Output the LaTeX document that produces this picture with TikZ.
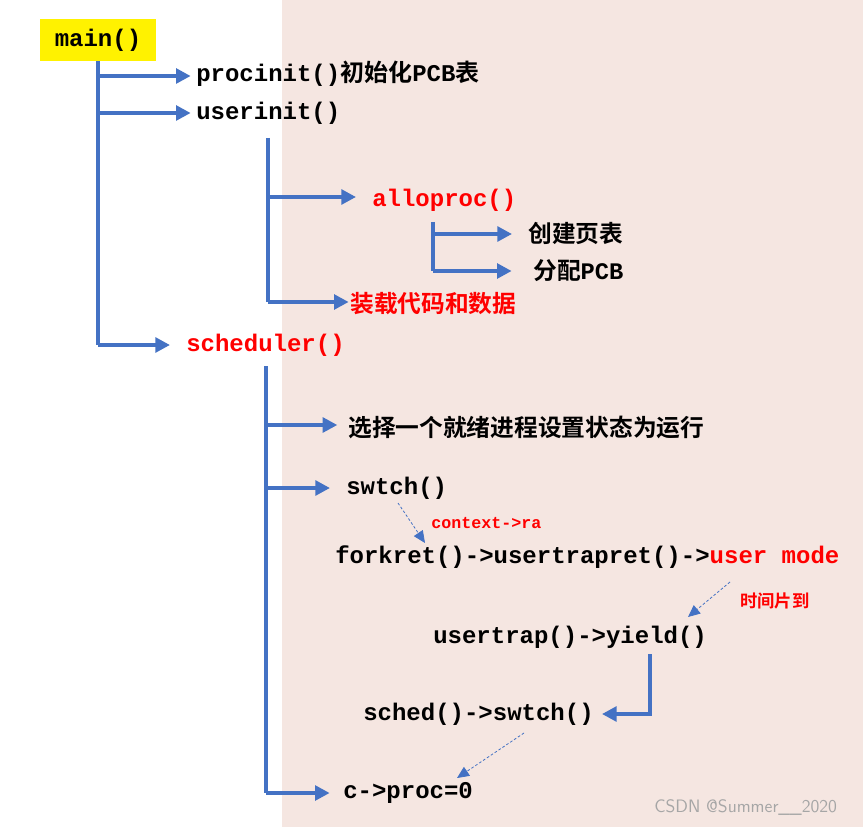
\documentclass[tikz,border=0pt]{standalone}
\usepackage{fontspec}
\setmonofont{Liberation Mono}
\newfontfamily\cjk{Noto Sans CJK SC}[BoldFont={* Bold}]
\usetikzlibrary{arrows.meta}
\definecolor{bl}{HTML}{4472C4}
\definecolor{pk}{HTML}{F5E6E1}
\begin{document}
\begin{tikzpicture}[x=0.75pt,y=-0.75pt,
  tx/.style={anchor=west,inner sep=0pt,font=\fontsize{18}{20}\selectfont\ttfamily\bfseries},
  cn/.style={anchor=west,inner sep=0pt,font=\fontsize{17.8}{20}\selectfont\cjk\bfseries},
  sm/.style={anchor=west,inner sep=0pt,font=\fontsize{12.5}{14}\selectfont\ttfamily\bfseries,text=red},
  smc/.style={anchor=west,inner sep=0pt,font=\fontsize{13}{14}\selectfont\cjk\bfseries,text=red},
  ln/.style={bl,line width=3pt},
  ar/.style={bl,line width=3pt,-{Triangle[length=11pt,width=11pt]}},
  da/.style={bl,dashed,line width=0.6pt,dash pattern=on 2pt off 1.5pt,-{Triangle[length=9pt,width=8pt]}}]
\useasboundingbox (0,0) rectangle (863,827);
\fill[white] (0,0) rectangle (282,827);
\fill[pk] (282,0) rectangle (863,827);
\node[fill=yellow,minimum width=87pt,minimum height=31pt,inner sep=0pt,font=\fontsize{18}{20}\selectfont\ttfamily\bfseries] (main) at (98,40) {main()};
% level 1
\node[tx] (pi) at (196,74) {procinit()\cjk 初始化\ttfamily PCB\cjk 表};
\node[tx] (ui) at (196,113) {userinit()};
\node[tx,text=red] (sc) at (186,345) {scheduler()};
\coordinate (m1) at (98,76); \coordinate (m2) at (98,113); \coordinate (m3) at (98,345);
\draw[ln] (main.south -| m1) -- (m3);
\draw[ar] (m1) -- ([xshift=-4pt]pi.west |- m1);
\draw[ar] (m2) -- ([xshift=-4pt]ui.west |- m2);
\draw[ar] (m3) -- ([xshift=-12pt]sc.west |- m3);
% userinit
\node[tx,text=red] (ap) at (372,200) {alloproc()};
\node[cn,text=red] (zz) at (350,304) {装载代码和数据};
\coordinate (u0) at (268,138); \coordinate (u1) at (268,197); \coordinate (u2) at (268,302);
\draw[ln] (u0) -- (u2);
\draw[ar] (u1) -- ([xshift=-12pt]ap.west |- u1);
\draw[ar] (u2) -- ([xshift=-1pt]zz.west |- u2);
% alloproc
\node[cn] (cj) at (528,233) {创建页表};
\node[cn] (fp) at (533,271) {分配\ttfamily PCB};
\coordinate (a0) at (433,222); \coordinate (a1) at (433,234); \coordinate (a2) at (433,271);
\draw[ln] (a0) -- (a2);
\draw[ar] (a1) -- ([xshift=-12pt]cj.west |- a1);
\draw[ar] (a2) -- ([xshift=-16pt]fp.west |- a2);
% scheduler
\node[cn] (xz) at (348,427) {选择一个就绪进程设置状态为运行};
\node[tx] (sw) at (346,488) {swtch()};
\node[tx] (cp) at (343,793) {c->proc=0};
\coordinate (s0) at (266,366); \coordinate (s1) at (266,425); \coordinate (s2) at (266,488); \coordinate (s3) at (266,793);
\draw[ln] (s0) -- (s3);
\draw[ar] (s1) -- ([xshift=-8pt]xz.west |- s1);
\draw[ar] (s2) -- ([xshift=-12pt]sw.west |- s2);
\draw[ar] (s3) -- ([xshift=-10pt]cp.west |- s3);
% chain
\node[tx] (fk) at (335,557) {forkret()->usertrapret()->\textcolor{red}{user mode}};
\node[sm] (cr) at (431,523) {context->ra};
\node[tx] (ut) at (433,637) {usertrap()->yield()};
\node[smc] (sj) at (740,601) {时间片到};
\node[tx] (sd) at (363,714) {sched()->swtch()};
\coordinate (d1) at (398,503); \coordinate (d2) at (425,543);
\draw[da] (d1) -- (d2);
\coordinate (d3) at (730,582); \coordinate (d4) at (688,617);
\draw[da] (d3) -- (d4);
\coordinate (d5) at (524,733); \coordinate (d6) at (457,778);
\draw[da] (d5) -- (d6);
\coordinate (y0) at (650,654); \coordinate (y1) at (650,714);
\draw[ar] (y0) -- (y1) -- ([xshift=6pt]sd.east |- y1);
\node[anchor=west,inner sep=0pt,text=gray!70,font=\fontsize{13.5}{15}\selectfont\sffamily] (wm) at (654,808) {CSDN @Summer\_\_2020};
\end{tikzpicture}
\end{document}
